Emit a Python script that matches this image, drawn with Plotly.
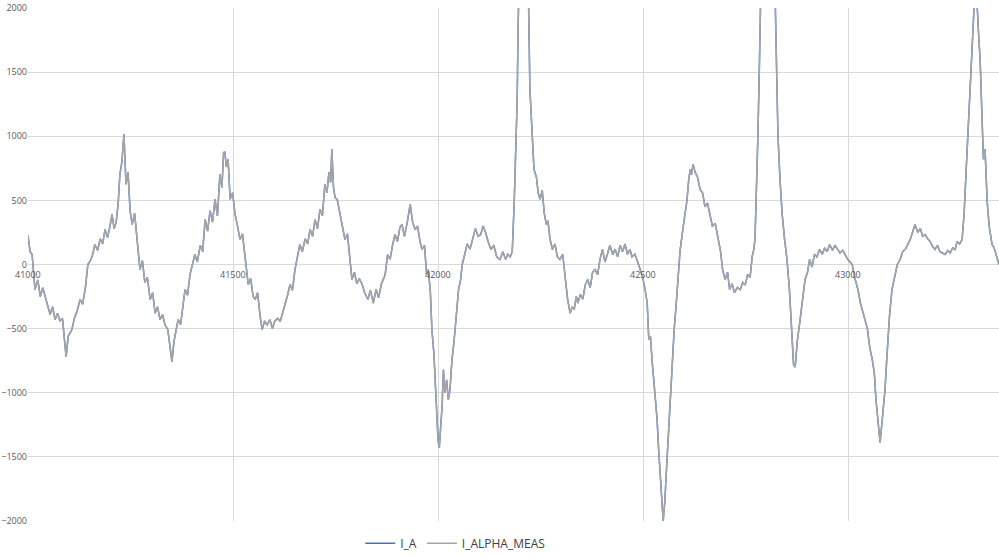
import plotly.graph_objects as go

# (sample index, current reading), by cycle
seg_1 = [(41000, 230), (41005, 100), (41010, 80), (41017, -195), (41024, -120), (41030, -250), (41036, -180),
         (41041, -234), (41047, -300), (41054, -390), (41060, -330), (41066, -430), (41072, -380), (41078, -440),
         (41084, -420), (41090, -600), (41093, -720), (41098, -560), (41107, -508), (41113, -420), (41120, -360),
         (41127, -273), (41133, -310), (41140, -180), (41146, 0), (41152, 30), (41158, 80), (41163, 156),
         (41170, 110), (41176, 200), (41182, 160), (41188, 273), (41194, 210), (41200, 300), (41205, 390),
         (41210, 280), (41215, 330), (41220, 480), (41224, 700), (41229, 800), (41234, 1015), (41239, 625),
         (41244, 720), (41249, 420), (41254, 312), (41260, 400), (41266, 180), (41273, -39), (41279, 30),
         (41285, -140), (41291, -100), (41298, -273), (41304, -220), (41310, -380), (41316, -330), (41322, -430),
         (41328, -390), (41334, -470), (41341, -508), (41346, -620), (41351, -758), (41356, -600), (41361, -500),
         (41366, -430), (41372, -470), (41378, -300), (41383, -195), (41389, -240), (41395, -80), (41401, 0),
         (41407, 78), (41413, 20), (41420, 150), (41426, 100), (41432, 351), (41438, 260), (41444, 420),
         (41450, 330), (41456, 508), (41462, 380), (41468, 703), (41473, 600), (41477, 870), (41480, 880),
         (41484, 760), (41488, 820), (41493, 508), (41499, 560), (41505, 390), (41511, 300), (41517, 195)]
seg_2 = [(41523, 240), (41530, 60), (41537, -156), (41543, -110), (41549, -250), (41554, -273), (41560, -220),
         (41566, -400), (41571, -508), (41577, -440), (41583, -470), (41590, -430), (41596, -500), (41602, -440),
         (41609, -420), (41615, -445), (41621, -380), (41627, -300), (41633, -240), (41639, -156), (41645, -200),
         (41651, -40), (41657, 60), (41663, 156), (41669, 100), (41676, 200), (41682, 160), (41688, 273),
         (41694, 220), (41700, 350), (41706, 280), (41712, 430), (41718, 380), (41724, 625), (41729, 560),
         (41734, 720), (41738, 640), (41741, 898), (41745, 600), (41749, 520), (41754, 508), (41760, 400),
         (41766, 300), (41773, 195), (41779, 240), (41785, 60), (41790, -117), (41796, -60), (41802, -150),
         (41808, -110), (41815, -156), (41821, -220), (41829, -273), (41835, -200), (41842, -300), (41849, -195),
         (41855, -260), (41862, -150), (41871, -80), (41877, 78), (41883, 40), (41889, 150), (41895, 234),
         (41901, 180), (41907, 290), (41912, 312), (41918, 220), (41925, 330), (41932, 469), (41938, 330),
         (41944, 273), (41950, 300), (41956, 180), (41961, 117), (41967, 150), (41972, -78), (41976, -40),
         (41981, -200), (41985, -508), (41990, -700), (41995, -1055), (42000, -1367), (42003, -1430),
         (42006, -1300), (42010, -1100), (42013, -820), (42017, -1000), (42021, -900), (42025, -1055),
         (42029, -980), (42034, -742), (42039, -600), (42044, -400), (42050, -195), (42055, -120), (42059, 0),
         (42065, 78), (42071, 160), (42078, 120), (42084, 195), (42091, 280), (42098, 220), (42104, 234),
         (42110, 300), (42116, 250), (42122, 180), (42129, 117), (42136, 150), (42143, 60), (42151, 39),
         (42158, 100), (42165, 39), (42170, 80), (42176, 60), (42181, 100), (42186, 508), (42190, 900),
         (42193, 1289), (42195, 1800), (42198, 2300), (42213, 2400), (42220, 2200), (42224, 1367),
         (42229, 1000), (42234, 742), (42240, 680), (42244, 560), (42249, 508), (42254, 580), (42259, 400),
         (42264, 312), (42268, 340), (42273, 200), (42279, 117), (42285, 160), (42291, 60), (42297, 39),
         (42304, 80), (42310, -100), (42316, -273), (42322, -380), (42327, -330), (42332, -352), (42337, -250),
         (42341, -300), (42347, -234), (42353, -270), (42359, -160), (42365, -117), (42371, -180), (42377, -60),
         (42383, -39), (42389, -80), (42395, 40), (42401, 117), (42407, 20), (42413, 80), (42419, 150),
         (42426, 78), (42432, 120), (42438, 60), (42444, 150), (42450, 100), (42456, 160), (42462, 80),
         (42468, 117), (42473, 60), (42480, 80), (42487, 20), (42493, -39), (42499, -100), (42505, -195)]
seg_3 = [(42510, -300), (42514, -586), (42518, -560), (42522, -750), (42526, -898), (42530, -1000),
         (42534, -1200), (42538, -1445), (42542, -1700), (42546, -1850), (42549, -2000), (42553, -1850),
         (42557, -1600), (42562, -1300), (42567, -1000), (42571, -820), (42576, -500), (42581, -300),
         (42585, -117), (42590, 100), (42596, 250), (42602, 390), (42607, 500), (42611, 650), (42615, 742),
         (42618, 700), (42622, 781), (42627, 720), (42633, 680), (42639, 586), (42645, 560), (42651, 450),
         (42657, 480), (42663, 390), (42669, 300), (42676, 320), (42683, 195), (42689, 100), (42694, -40),
         (42700, -117), (42706, -60), (42711, -195), (42717, -150), (42723, -220), (42730, -180), (42737, -195),
         (42743, -140), (42749, -160), (42755, -78), (42761, -100), (42766, 60), (42770, 117), (42773, 200),
         (42776, 508), (42780, 1000), (42784, 1600), (42788, 2300), (42800, 2400), (42815, 2300), (42822, 2100),
         (42826, 1523), (42829, 1000), (42834, 664), (42839, 400), (42845, 200), (42851, 39), (42857, -200),
         (42863, -508), (42867, -781), (42871, -800), (42876, -600), (42883, -430), (42889, -250), (42895, -117),
         (42901, -60), (42906, 39), (42912, -20), (42918, 80), (42924, 60), (42930, 117), (42937, 80),
         (42943, 130), (42949, 100), (42955, 156), (42962, 110), (42968, 150), (42974, 120), (42980, 90),
         (42987, 110), (42993, 78), (42999, 40), (43005, 20), (43010, 0), (43016, -100), (43021, -150),
         (43024, -195), (43030, -300), (43036, -380), (43041, -430), (43047, -500), (43053, -650), (43059, -742),
         (43064, -850), (43068, -1055), (43071, -1150), (43075, -1300), (43078, -1390), (43082, -1250),
         (43086, -1100), (43090, -977), (43095, -700), (43101, -400), (43107, -195), (43113, -100), (43120, 0),
         (43127, 39), (43133, 100), (43140, 120), (43146, 156), (43152, 200), (43158, 260), (43163, 312),
         (43170, 250), (43176, 280), (43182, 220), (43188, 234), (43194, 200), (43200, 180), (43206, 140),
         (43212, 117), (43218, 150), (43224, 100), (43230, 90), (43237, 78), (43243, 110), (43249, 90),
         (43255, 130), (43261, 117), (43266, 180), (43272, 160), (43278, 195), (43283, 400), (43288, 742),
         (43293, 1100), (43298, 1445), (43303, 1800), (43307, 1992), (43311, 2050), (43315, 2000), (43319, 1750),
         (43322, 1600), (43326, 1200), (43330, 820), (43334, 900), (43339, 500), (43344, 300), (43351, 156),
         (43356, 130), (43362, 60), (43368, 0)]
tick_vals = [41000, 41500, 42000, 42500, 43000]

points = seg_1 + seg_2 + seg_3
sample = [p[0] for p in points]
i_alpha = [p[1] for p in points]

fig = go.Figure()
fig.add_trace(go.Scatter(x=sample, y=i_alpha, name="I_A", mode="lines",
                         line=dict(color="#4472c4", width=1.5)))
fig.add_trace(go.Scatter(x=sample, y=i_alpha, name="I_ALPHA_MEAS", mode="lines",
                         line=dict(color="#a5a5a5", width=1.5)))

# x labels sit on the zero line, like the spreadsheet chart
for t in tick_vals:
    fig.add_annotation(x=t, y=0, xref="x", yref="y", text=str(t), showarrow=False,
                       yanchor="top", yshift=-1, font=dict(size=9, color="#595959"))

fig.update_layout(
    width=999, height=558, plot_bgcolor="white", paper_bgcolor="white",
    margin=dict(l=28, r=0, t=8, b=37, autoexpand=False),
    font=dict(family="Open Sans", color="#595959"),
    legend=dict(orientation="h", x=0.44, xanchor="center", y=-0.015, yanchor="top",
                font=dict(size=12, color="#404040")),
    xaxis=dict(range=[41000, 43368], tickvals=tick_vals, showticklabels=False, automargin=False,
               showgrid=True, gridcolor="#d9d9d9", zeroline=False, showline=False),
    yaxis=dict(range=[-2000, 2000], dtick=500, showgrid=True, gridcolor="#d9d9d9", automargin=False,
               zeroline=True, zerolinecolor="#d9d9d9", zerolinewidth=1,
               tickfont=dict(size=9, color="#595959"), ticks="", showline=False),
)
fig.write_html("out.html", config={"displayModeBar": False},
               post_script="document.body.style.margin='0';")
